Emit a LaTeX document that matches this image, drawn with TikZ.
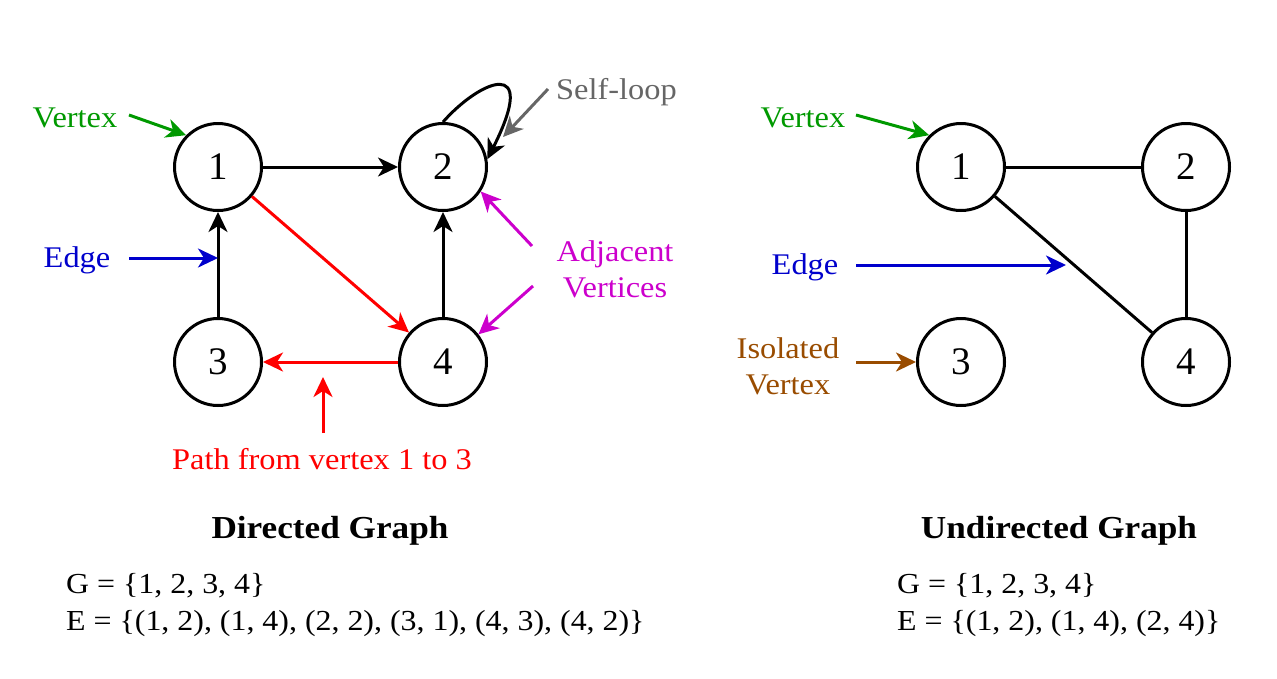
\documentclass[tikz,border=0pt]{standalone}
\usepackage{fontspec}
\setmainfont{Liberation Serif}
\usetikzlibrary{arrows.meta}
\definecolor{cgreen}{RGB}{0,153,0}
\definecolor{cblue}{RGB}{0,0,204}
\definecolor{cmag}{RGB}{204,0,204}
\definecolor{cred}{RGB}{255,0,0}
\definecolor{cgray}{RGB}{102,102,102}
\definecolor{cbrown}{RGB}{153,76,0}
\newfontfamily\wideserif[FakeStretch=1.08]{Liberation Serif}
\newfontfamily\widesets[FakeStretch=1.1]{Liberation Serif}
\tikzset{
  vert/.style={circle, draw=black, line width=3pt, minimum size=87pt, inner sep=0pt, font=\fontsize{39}{40}\selectfont},
  lbl/.style={font=\wideserif\fontsize{30}{36}\selectfont, align=center, inner sep=0pt},
  edge/.style={line width=3pt},
  arr/.style={line width=3pt, -{Stealth[length=20pt, width=19pt, inset=6pt]}},
  title/.style={font=\widesets\fontsize{32}{34}\selectfont\bfseries, inner sep=0pt},
  sets/.style={font=\widesets\fontsize{29}{37}\selectfont, align=left, anchor=west, inner sep=0pt}
}
\begin{document}
\begin{tikzpicture}[x=1pt, y=-1pt]
\useasboundingbox (0,0) rectangle (1277,678);
% ---------- Directed graph ----------
\node[vert] (a1) at (218,167) {1};
\node[vert] (a2) at (443,167) {2};
\node[vert] (a3) at (218,362) {3};
\node[vert] (a4) at (443,362) {4};
\draw[arr] (a1) -- (a2);
\draw[arr] (a3) -- (a1);
\draw[arr] (a4) -- (a2);
\draw[arr, cred] (a1) -- (a4);
\draw[arr, cred] (a4) -- (a3);
\draw[arr] (a2.north) .. controls (480,80) and (540,55) .. (a2.10);
% labels
\node[lbl, cgreen] (avl) at (75,118) {Vertex};
\coordinate (avs) at (129,115);
\draw[arr, cgreen] (avs) -- (a1.135);
\node[lbl, cblue] (ael) at (77,260) {Edge};
\coordinate (aes) at (129,258);
\coordinate (aee) at (218,258);
\draw[arr, cblue] (aes) -- (aee);
\node[lbl, cgray, anchor=west] (asl) at (556,92) {Self-loop};
\coordinate (ass) at (548,89);
\coordinate (ase) at (503,137);
\draw[arr, cgray] (ass) -- (ase);
\node[lbl, cmag] (aal) at (615,269) {Adjacent\\Vertices};
\coordinate (aas1) at (532,246);
\coordinate (aas2) at (533,286);
\draw[arr, cmag] (aas1) -- (a2.-33);
\draw[arr, cmag] (aas2) -- (a4.38);
\node[lbl, cred] (apl) at (322,459) {Path from vertex 1 to 3};
\coordinate (aps) at (323,433);
\coordinate (ape) at (323,377);
\draw[arr, cred] (aps) -- (ape);
\node[title] (at) at (330,531) {Directed Graph};
\node[sets] (as) at (66,605) {G = \{1, 2, 3, 4\}\\E = \{(1, 2), (1, 4), (2, 2), (3, 1), (4, 3), (4, 2)\}};
% ---------- Undirected graph ----------
\node[vert] (b1) at (961,167) {1};
\node[vert] (b2) at (1186,167) {2};
\node[vert] (b3) at (961,362) {3};
\node[vert] (b4) at (1186,362) {4};
\draw[edge] (b1) -- (b2);
\draw[edge] (b1) -- (b4);
\draw[edge] (b2) -- (b4);
\node[lbl, cgreen] (bvl) at (803,118) {Vertex};
\coordinate (bvs) at (856,115);
\draw[arr, cgreen] (bvs) -- (b1.135);
\node[lbl, cblue] (bel) at (805,267) {Edge};
\coordinate (bes) at (856,265);
\coordinate (bee) at (1066,265);
\draw[arr, cblue] (bes) -- (bee);
\node[lbl, cbrown] (bil) at (788,366) {Isolated\\Vertex};
\coordinate (bis) at (856,362);
\draw[arr, cbrown] (bis) -- (b3.west);
\node[title] (bt) at (1059,531) {Undirected Graph};
\node[sets] (bs) at (897,605) {G = \{1, 2, 3, 4\}\\E = \{(1, 2), (1, 4), (2, 4)\}};
\end{tikzpicture}
\end{document}
